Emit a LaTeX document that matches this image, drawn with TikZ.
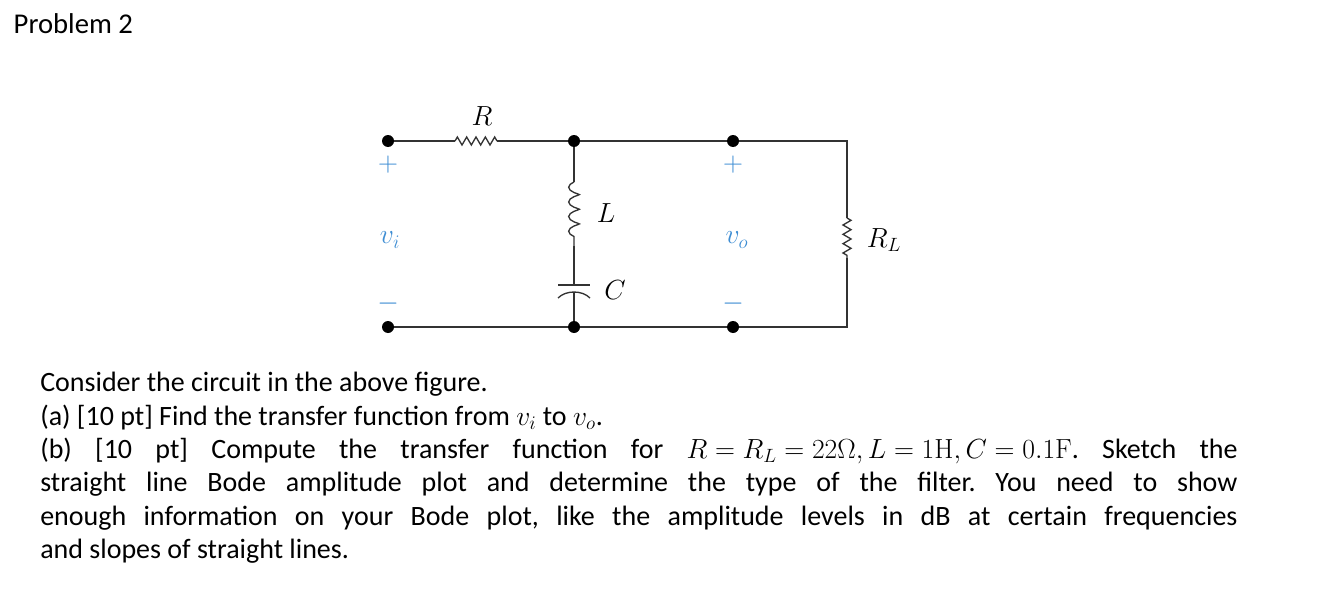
\documentclass[tikz,border=0pt]{standalone}
\usepackage[no-math]{fontspec}
\setmainfont{Carlito}
\usetikzlibrary{decorations.pathmorphing}
\begin{document}
\frenchspacing
\medmuskip=4mu\relax
\thickmuskip=5mu\relax
\begin{tikzpicture}[x=0.75pt,y=-0.75pt,
  wire/.style={line width=1pt,black!80},
  dot/.style={circle,fill=black,inner sep=0pt,minimum size=9pt},
  lbl/.style={font=\fontsize{22}{22}\selectfont},
  pol/.style={text=cyan!60!blue!80!white,font=\fontsize{22}{22}\selectfont}]
\useasboundingbox (0,0) rectangle (1328,592);
\node[anchor=base west,font=\fontsize{21.5}{24}\selectfont] (title) at (9,34) {Problem 2};
% nodes
\node[dot] (a) at (388,141) {};
\node[dot] (b) at (388,327) {};
\node[dot] (j) at (574,141) {};
\node[dot] (k) at (574,327) {};
\node[dot] (c) at (733,141) {};
\node[dot] (d) at (733,327) {};
\coordinate (tr) at (847,141);
\coordinate (br) at (847,327);
\coordinate (r1) at (455,141); \coordinate (r2) at (497,141);
\coordinate (l1) at (574,182); \coordinate (l2) at (574,246);
\coordinate (c1) at (574,285); \coordinate (c2) at (574,292);
\coordinate (rl1) at (847,218); \coordinate (rl2) at (847,258);
\draw[wire] (a) -- (r1);
\draw[wire,decorate,decoration={zigzag,segment length=7pt,amplitude=3pt}] (r1) -- (r2);
\draw[wire] (r2) -- (j) -- (c) -- (tr) -- (rl1);
\draw[wire,decorate,decoration={zigzag,segment length=7pt,amplitude=3pt}] (rl1) -- (rl2);
\draw[wire] (rl2) -- (br) -- (d) -- (k) -- (b);
\draw[wire] (j) -- (l1);
\draw[wire,decorate,decoration={coil,aspect=0.3,segment length=11pt,amplitude=4pt,mirror}] (l1) -- (l2);
\draw[wire] (l2) -- (c1);
\draw[wire] (558,285) -- (590,285);
\draw[wire] (558,298) .. controls (566,290) and (582,290) .. (590,298);
\draw[wire] (c2) -- (k);
% labels
\node[lbl] (lR) at (482,116) {$R$};
\node[lbl] (lL) at (606,213) {$L$};
\node[lbl] (lC) at (615,290) {$C$};
\node[lbl] (lRL) at (884,240) {$R_L$};
\node[pol] (p1) at (388,165) {$+$};
\node[pol] (p2) at (733,165) {$+$};
\node[pol] (m1) at (388,304) {$-$};
\node[pol] (m2) at (733,304) {$-$};
\node[pol] (vi) at (390,240) {$v_i$};
\node[pol] (vo) at (737,240) {$v_o$};
% text
\node[anchor=north west,inner sep=0pt,text width=898pt,align=justify,
  font=\fontsize{21}{25}\selectfont] (txt) at (40,372) {%
Consider the circuit in the above figure.\\
(a) [10 pt] Find the transfer function from $v_i$ to $v_o$.\\
(b) [10 pt] Compute the transfer function for $R=R_L=22\Omega, L=1\mathrm{H}, C=0.1\mathrm{F}$. Sketch the\linebreak
straight line Bode amplitude plot and determine the type of the filter. You need to show\linebreak
enough information on your Bode plot, like the amplitude levels in dB at certain frequencies\linebreak
and slopes of straight lines.};
\end{tikzpicture}
\end{document}
